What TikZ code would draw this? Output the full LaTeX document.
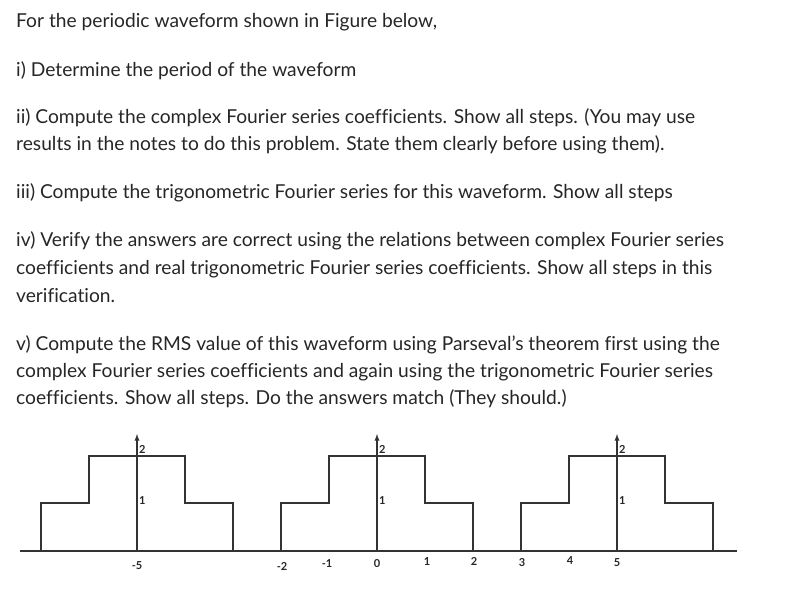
\documentclass[tikz,border=0pt]{standalone}
\usepackage{fontspec}
\setmainfont{Lato}[Ligatures=NoCommon]
\begin{document}
\begin{tikzpicture}[x=1pt,y=-1pt,
  txt/.style={anchor=base west,inner sep=0,font=\fontsize{19.2}{22}\selectfont,text=black!85},
  wave/.style={draw=black!80,line width=1.3pt},
  tick/.style={inner sep=0,font=\fontsize{11}{13}\selectfont\bfseries,text=black!85},
  lvl/.style={anchor=west,inner sep=0,font=\fontsize{11}{13}\selectfont\bfseries,text=black!85}]
\useasboundingbox (0,0) rectangle (804,591);
\node[txt] (t1) at (16,28) {For the periodic waveform shown in Figure below,};
\node[txt] (t2) at (16,77) {i) Determine the period of the waveform};
\node[txt] (t3) at (16,124) {ii) Compute the complex Fourier series coefficients. Show all steps. (You may use};
\node[txt] (t4) at (16,151) {results in the notes to do this problem. State them clearly before using them).};
\node[txt] (t5) at (16,199) {iii) Compute the trigonometric Fourier series for this waveform. Show all steps};
\node[txt] (t6) at (16,247) {iv) Verify the answers are correct using the relations between complex Fourier series};
\node[txt] (t7) at (16,274) {coefficients and real trigonometric Fourier series coefficients. Show all steps in this};
\node[txt] (t8) at (16,302) {verification.};
\node[txt] (t9) at (16,350) {v) Compute the RMS value of this waveform using Parseval\char"0027 s theorem first using the};
\node[txt] (t10) at (16,377) {complex Fourier series coefficients and again using the trigonometric Fourier series};
\node[txt] (t11) at (16,404) {coefficients. Show all steps. Do the answers match (They should.)};
% baseline
\coordinate (bl) at (20,551);
\coordinate (br) at (737,551);
\draw[wave] (bl) -- (br);
% pulses
\foreach \c in {137,377,617}{
  \draw[wave] (\c-96,551) -- (\c-96,503) -- (\c-48,503) -- (\c-48,456) -- (\c+48,456) -- (\c+48,503) -- (\c+96,503) -- (\c+96,551);
  \draw[wave,-latex] (\c,551) -- (\c,434);
  \node[lvl] at (\c+2,449) {2};
  \node[lvl] at (\c+2,501) {1};
}
\node[tick] (m5) at (137,566) {-5};
\node[tick] (m2) at (282,566) {-2};
\node[tick] (m1) at (327,564) {-1};
\node[tick] (z0) at (377,564) {0};
\node[tick] (p1) at (427,562) {1};
\node[tick] (p2) at (474,561) {2};
\node[tick] (p3) at (522,563) {3};
\node[tick] (p4) at (570,561) {4};
\node[tick] (p5) at (617,563) {5};
\end{tikzpicture}
\end{document}
